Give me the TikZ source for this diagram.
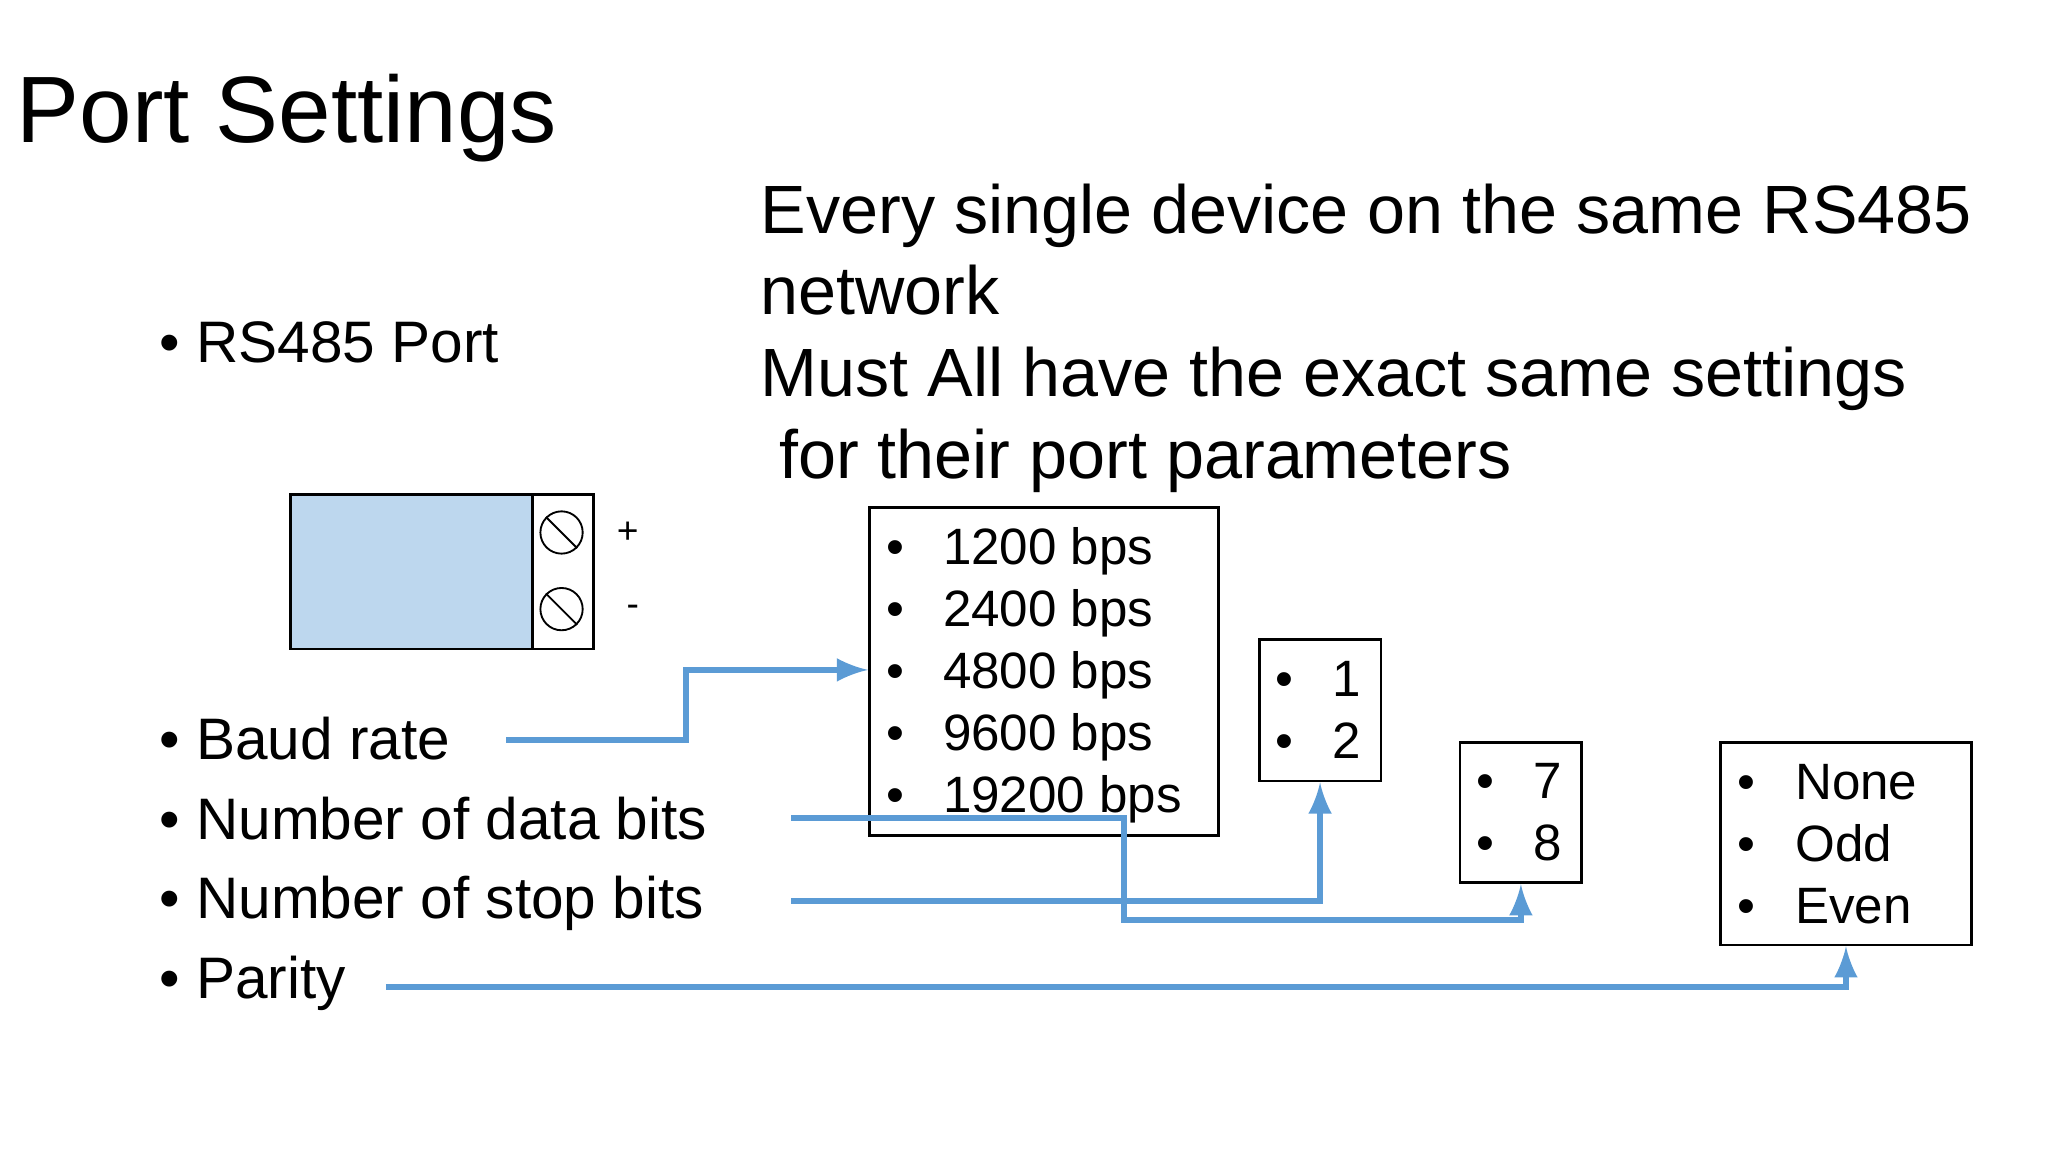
\documentclass[tikz,border=0pt]{standalone}
\usepackage{fontspec}
\setmainfont{Liberation Sans}
\usepackage{tikz}

\begin{document}
\begin{tikzpicture}[x=0.01cm, y=-0.01cm,
    link/.style={color={rgb,255:red,91;green,155;blue,213}, line width=1.3pt, ->, >=latex},
    box/.style={draw=black, line width=0.6pt, anchor=north west, inner sep=0pt},
    big/.style={font=\fontsize{12.6}{15}\selectfont, anchor=base west, inner sep=0pt},
    msg/.style={font=\fontsize{14.7}{17}\selectfont, anchor=base west, inner sep=0pt},
    item/.style={font=\fontsize{11}{13}\selectfont, anchor=base west, inner sep=0pt}]
    \useasboundingbox (0,0) rectangle (1550,872);
    \node[font=\fontsize{20.3}{24}\selectfont, anchor=base west, inner sep=0pt] at (12,108) (Title) {Port Settings};
    \node[big] at (120,274) (Port) {\textbullet\ RS485 Port};
    \node[msg] at (575,177) (M1) {Every single device on the same RS485};
    \node[msg] at (575,238) (M2) {network};
    \node[msg] at (575,300) (M3) {Must All have the exact same settings};
    \node[msg] at (589,362) (M4) {for their port parameters};
    % device
    \node[box, fill={rgb,255:red,189;green,215;blue,238}, minimum width=1.83cm, minimum height=1.17cm] at (219,373) (Dev) {};
    \node[box, minimum width=0.46cm, minimum height=1.17cm] at (402,373) (Term) {};
    \node[draw, circle, minimum size=0.32cm, inner sep=0pt] at (425,403) (S1) {};
    \node[draw, circle, minimum size=0.32cm, inner sep=0pt] at (425,461) (S2) {};
    \draw (S1.north west) -- (S1.south east);
    \draw (S2.north west) -- (S2.south east);
    \node[font=\fontsize{8}{9}\selectfont] at (475,403) (Plus) {+};
    \node[font=\fontsize{8}{9}\selectfont] at (479,462) (Minus) {-};
    % left list
    \node[big] at (120,575) (Baud) {\textbullet\ Baud rate};
    \node[big] at (120,635) (Data) {\textbullet\ Number of data bits};
    \node[big] at (120,695) (Stop) {\textbullet\ Number of stop bits};
    \node[big] at (120,756) (Par) {\textbullet\ Parity};
    % option boxes
    \node[box, minimum width=2.64cm, minimum height=2.48cm] at (657,383) (BaudBox) {};
    \foreach \t [count=\i] in {1200 bps,2400 bps,4800 bps,9600 bps,19200 bps} {
        \node[item] at (670,427+47*\i-47) {\textbullet};
        \node[item] at (713,427+47*\i-47) {\t};
    }
    \node[box, minimum width=0.92cm, minimum height=1.07cm] at (952,483) (StopBox) {};
    \foreach \t [count=\i] in {1,2} {
        \node[item] at (965,527+47*\i-47) {\textbullet};
        \node[item] at (1008,527+47*\i-47) {\t};
    }
    \node[box, minimum width=0.92cm, minimum height=1.06cm] at (1104,561) (DataBox) {};
    \foreach \t [count=\i] in {7,8} {
        \node[item] at (1117,604+47*\i-47) {\textbullet};
        \node[item] at (1160,604+47*\i-47) {\t};
    }
    \node[box, minimum width=1.9cm, minimum height=1.53cm] at (1301,561) (ParBox) {};
    \foreach \t [count=\i] in {None,Odd,Even} {
        \node[item] at (1314,605+47*\i-47) {\textbullet};
        \node[item] at (1358,605+47*\i-47) {\t};
    }
    % connectors
    \coordinate (bS) at (383,560);
    \coordinate (dS) at (599,619);
    \coordinate (sS) at (599,682);
    \coordinate (pS) at (292,747);
    \draw[link] (bS) -- (519,560) |- (BaudBox.west |- 0,507);
    \draw[link] (dS) -- (851,619) -- (851,696) -| (DataBox.south);
    \draw[link] (sS) -| (StopBox.south);
    \draw[link] (pS) -| (ParBox.south);
\end{tikzpicture}
\end{document}
